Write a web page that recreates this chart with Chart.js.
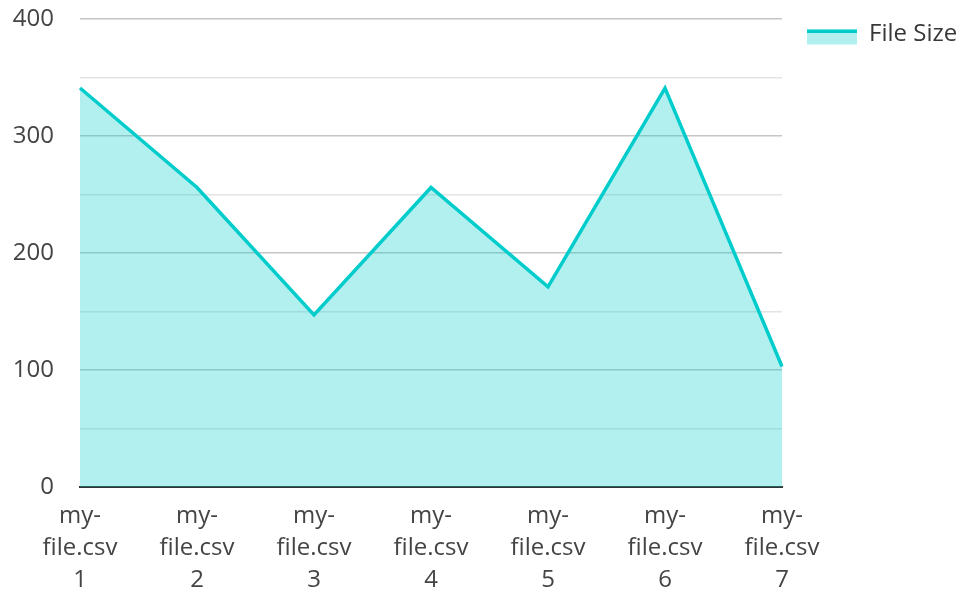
<!DOCTYPE html>
<html>
<head>
<meta charset="utf-8">
<script src="https://cdn.jsdelivr.net/npm/chart.js@4/dist/chart.umd.min.js"></script>
<style>
  html, body { margin: 0; padding: 0; background: #fff; }
  #wrap { width: 961px; height: 589px; }
</style>
</head>
<body>
<div id="wrap"><canvas id="c" width="961" height="589"></canvas></div>
<script>
// ---- data ----
const categories = [
  ['my-', 'file.csv', '1'],
  ['my-', 'file.csv', '2'],
  ['my-', 'file.csv', '3'],
  ['my-', 'file.csv', '4'],
  ['my-', 'file.csv', '5'],
  ['my-', 'file.csv', '6'],
  ['my-', 'file.csv', '7']
];
const fileSizes = [341, 256, 147, 256, 171, 341, 103];
const seriesName = 'File Size';
const yTickValues = [0, 100, 200, 300, 400];

const LINE = '#00cccc';
const FILL = 'rgba(0, 204, 204, 0.3)';
const TEXT = '#444444';
const FONT = 'Open Sans';

// draws the legend key: light fill box with a teal stripe on top
const legendKey = {
  id: 'legendKey',
  afterDraw(chart) {
    const lg = chart.legend;
    if (!lg || !lg.legendHitBoxes || !lg.legendHitBoxes.length) return;
    const hb = lg.legendHitBoxes[0];
    const x = hb.left + 3;
    const y = hb.top + 7.5;
    const ctx = chart.ctx;
    ctx.save();
    ctx.fillStyle = FILL;
    ctx.fillRect(x, y, 50, 15);
    ctx.fillStyle = LINE;
    ctx.fillRect(x, y, 50, 3.5);
    ctx.restore();
  }
};

new Chart(document.getElementById('c'), {
  type: 'line',
  data: {
    labels: categories,
    datasets: [{
      label: seriesName,
      data: fileSizes,
      borderColor: LINE,
      backgroundColor: FILL,
      borderWidth: 3.5,
      pointRadius: 0,
      pointHoverRadius: 0,
      tension: 0,
      fill: 'origin'
    }]
  },
  options: {
    responsive: false,
    animation: false,
    layout: { padding: { left: 0, top: 0, bottom: 0, right: 3 } },
    plugins: {
      tooltip: { enabled: false },
      legend: {
        position: 'right',
        align: 'start',
        maxWidth: 176,
        labels: {
          boxWidth: 53,
          boxHeight: 15,
          padding: 22,
          color: '#383838',
          font: { family: FONT, size: 24 },
          generateLabels(chart) {
            const ds = chart.data.datasets[0];
            return [{
              text: ds.label,
              fillStyle: 'rgba(0,0,0,0)',
              strokeStyle: 'rgba(0,0,0,0)',
              lineWidth: 0,
              fontColor: '#383838',
              hidden: false,
              datasetIndex: 0
            }];
          }
        }
      }
    },
    scales: {
      x: {
        grid: { display: false, drawTicks: false },
        border: { display: true, color: '#333333', width: 2 },
        ticks: {
          color: TEXT,
          font: { family: FONT, size: 24, lineHeight: 1.333 },
          padding: 13,
          maxRotation: 0,
          minRotation: 0,
          autoSkip: false
        },
        afterFit(scale) { scale.height = 102; }
      },
      y: {
        min: 0,
        max: 400,
        grid: {
          drawTicks: false,
          lineWidth: 1.5,
          color(ctx) {
            const v = ctx.tick && ctx.tick.value;
            return yTickValues.includes(v) ? '#c6c6c6' : '#e4e4e4';
          }
        },
        border: { display: false },
        ticks: {
          stepSize: 50,
          color: TEXT,
          font: { family: FONT, size: 24 },
          padding: 26,
          callback(v) { return yTickValues.includes(v) ? String(v) : ''; }
        },
        afterFit(scale) {
          scale.width = 80;
          scale.paddingTop = 19;
          scale.paddingBottom = 0;
        }
      }
    }
  },
  plugins: [legendKey]
});
</script>
</body>
</html>
